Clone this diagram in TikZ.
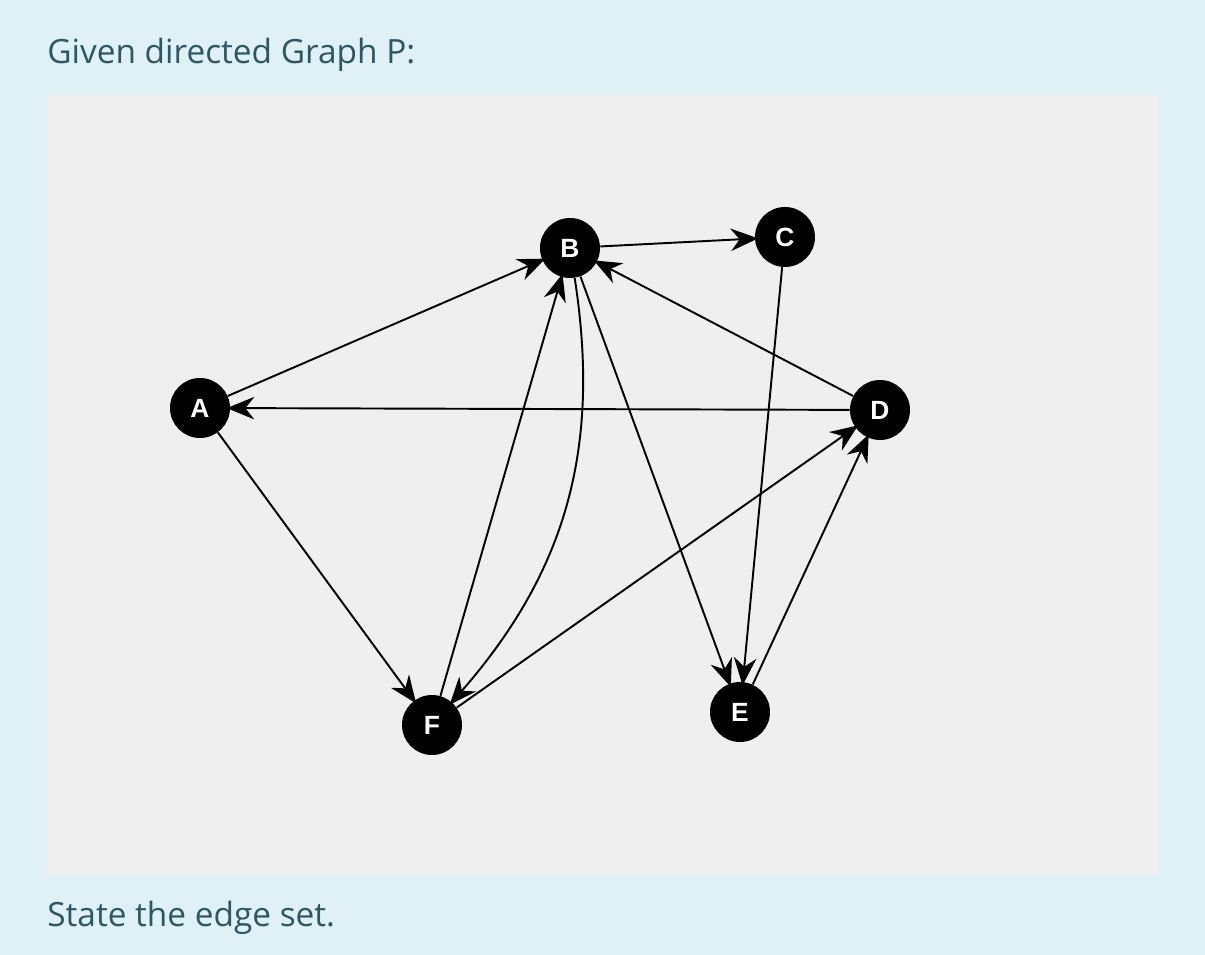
\documentclass[tikz,border=0pt]{standalone}
\usepackage{fontspec}
\setmainfont{Open Sans}
\setsansfont{Liberation Sans}
\usetikzlibrary{arrows.meta}
\definecolor{bgblue}{HTML}{DFF0F6}
\definecolor{panel}{HTML}{EFEFEF}
\definecolor{txt}{HTML}{2E5663}
\begin{document}
\begin{tikzpicture}[x=0.02cm,y=-0.02cm,
  vtx/.style={circle,fill=black,minimum size=1.2cm,inner sep=0pt,text=white,font=\sffamily\bfseries\fontsize{15}{15}\selectfont},
  edge/.style={-{Stealth[length=0.55cm,width=0.45cm]},line width=1.1pt,shorten >=-2pt},
  lbl/.style={anchor=west,text=txt,font=\fontsize{19}{22}\selectfont,inner sep=0pt}]
\fill[bgblue] (0,0) rectangle (1205,955);
\useasboundingbox (0,0) rectangle (1205,955);
\fill[panel] (47,95) rectangle (1158,875);
\node[lbl] (t1) at (47,55) {Given directed Graph P:};
\node[lbl] (t2) at (47,918) {State the edge set.};
\node[vtx] (A) at (200,408) {A};
\node[vtx] (B) at (570,248) {B};
\node[vtx] (C) at (785,237) {C};
\node[vtx] (D) at (880,410) {D};
\node[vtx] (E) at (740,712) {E};
\node[vtx] (F) at (432,725) {F};
\draw[edge] (A) -- (B);
\draw[edge] (B) -- (C);
\draw[edge] (D) -- (B);
\draw[edge] (D) -- (A);
\draw[edge] (A) -- (F);
\draw[edge] (F) -- (B);
\draw[edge] (B) to[bend left=25] (F);
\draw[edge] (B) -- (E);
\draw[edge] (C) -- (E);
\draw[edge] (E) -- (D);
\draw[edge] (F) -- (D);
\end{tikzpicture}
\end{document}
